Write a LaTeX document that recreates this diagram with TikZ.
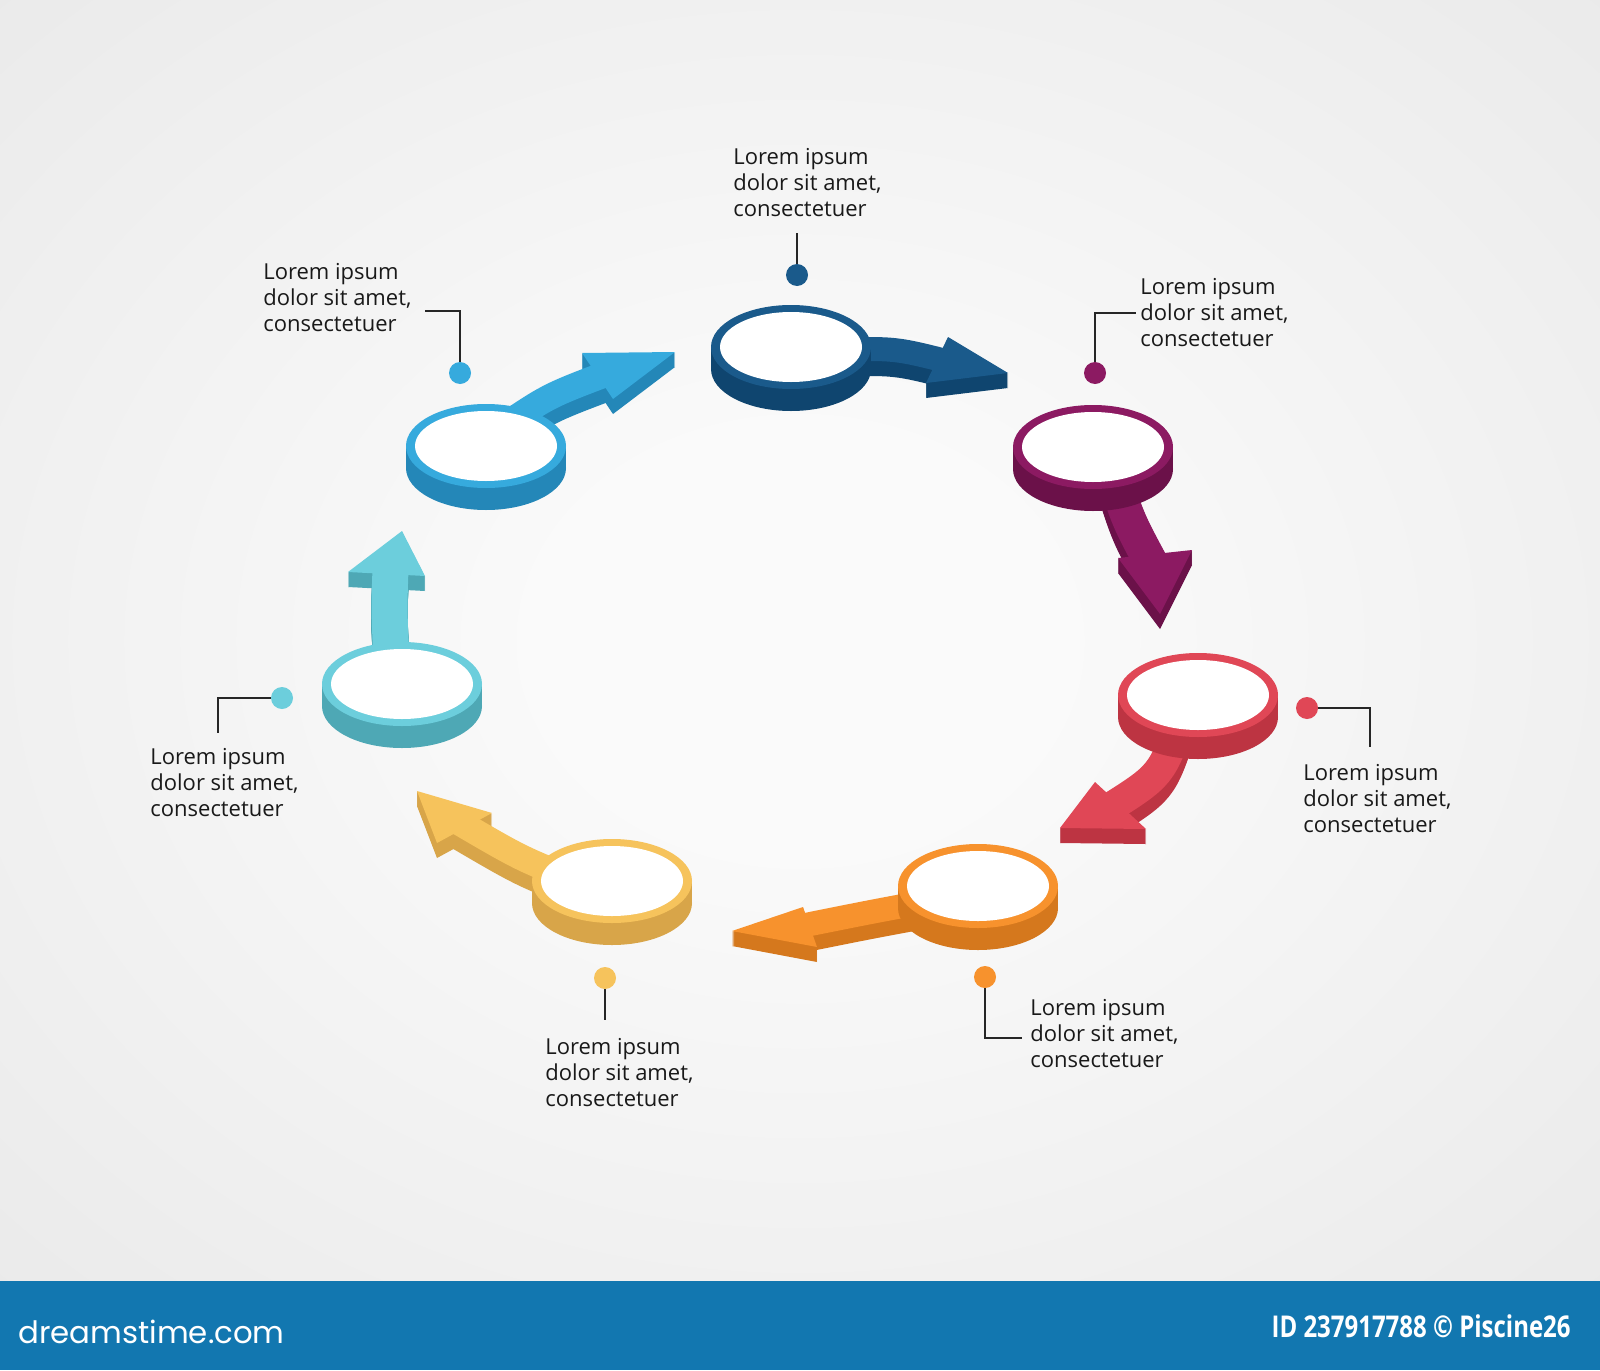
\documentclass[tikz,border=0pt]{standalone}
\usepackage{fontspec}
\setmainfont{Open Sans}
\newfontfamily\logofont{Poppins}
\newfontfamily\idfont[FakeStretch=0.8]{Open Sans}
\usetikzlibrary{calc}

\definecolor{face1}{HTML}{1A5A8B}\definecolor{side1}{HTML}{0F456F}
\definecolor{face2}{HTML}{8C1A62}\definecolor{side2}{HTML}{6B1149}
\definecolor{face3}{HTML}{E04756}\definecolor{side3}{HTML}{BD3442}
\definecolor{face4}{HTML}{F7922D}\definecolor{side4}{HTML}{D5781D}
\definecolor{face5}{HTML}{F6C35C}\definecolor{side5}{HTML}{D8A549}
\definecolor{face6}{HTML}{6CCEDC}\definecolor{side6}{HTML}{4EA8B5}
\definecolor{face7}{HTML}{36AADD}\definecolor{side7}{HTML}{2487B8}
\definecolor{bgin}{HTML}{FAFAFA}
\definecolor{bgout}{HTML}{E2E2E2}
\definecolor{footblue}{HTML}{1277B0}
\pgfdeclareradialshading{backglow}{\pgfpoint{0bp}{0bp}}{color(0bp)=(bgin); color(8bp)=(bgin); color(50bp)=(bgout); color(80bp)=(bgout)}

\tikzset{
  label text/.style={font=\fontsize{11}{13}\selectfont, align=left, anchor=north west, inner sep=0pt, text=black!90},
  leader/.style={line width=1pt, black!85},
  dot/.style={circle, minimum size=11pt, inner sep=0pt},
}

\begin{document}
\begin{tikzpicture}[x=0.5pt, y=-0.5pt]
\useasboundingbox (0,0) rectangle (1600,1370);
\shade[shading=backglow] (0,0) rectangle (1600,1282);
\fill[footblue] (0,1281) rectangle (1600,1370);

% discs
\coordinate (disc1) at (791,347);
\coordinate (disc2) at (1093,447);
\coordinate (disc3) at (1198,695);
\coordinate (disc4) at (978,886);
\coordinate (disc5) at (612,881);
\coordinate (disc6) at (402,684);
\coordinate (disc7) at (486,446);

% arrows: start, control, base, wings, tip
\coordinate (start1) at (835,350); \coordinate (ctrl1) at (895,348); \coordinate (base1) at (937,360);
\coordinate (lw1) at (948,337); \coordinate (rw1) at (926,383); \coordinate (tip1) at (1008,373);
\coordinate (start2) at (1112,470); \coordinate (ctrl2) at (1128,520); \coordinate (base2) at (1152,553);
\coordinate (lw2) at (1118,558); \coordinate (rw2) at (1192,550); \coordinate (tip2) at (1160,614);
\coordinate (start3) at (1182,715); \coordinate (ctrl3) at (1162,775); \coordinate (base3) at (1120,805);
\coordinate (lw3) at (1095,782); \coordinate (rw3) at (1146,829); \coordinate (tip3) at (1060,828);
\coordinate (start4) at (935,900); \coordinate (ctrl4) at (870,912); \coordinate (base4) at (810,927);
\coordinate (lw4) at (803,907); \coordinate (rw4) at (817,947); \coordinate (tip4) at (732,931);
\coordinate (start5) at (575,880); \coordinate (ctrl5) at (520,858); \coordinate (base5) at (465,828);
\coordinate (lw5) at (492,813); \coordinate (rw5) at (437,843); \coordinate (tip5) at (417,791);
\coordinate (start6) at (392,670); \coordinate (ctrl6) at (389,610); \coordinate (base6) at (387,573);
\coordinate (lw6) at (348,572); \coordinate (rw6) at (425,576); \coordinate (tip6) at (402,531);
\coordinate (start7) at (505,425); \coordinate (ctrl7) at (550,395); \coordinate (base7) at (597,376);
\coordinate (lw7) at (582,353); \coordinate (rw7) at (613,399); \coordinate (tip7) at (675,352);

\foreach \i/\w in {1/12,2/17,3/15,4/12,5/13,6/18,7/13}{
  \coordinate (neck\i) at ($(base\i)!0.25!(tip\i)$);
  \foreach \d in {15,14,...,1}{
    \draw[side\i, line width=\w pt] ($(start\i)+(0,\d)$) .. controls ($(ctrl\i)+(0,\d)$) .. ($(neck\i)+(0,\d)$);
    \fill[side\i] ($(lw\i)+(0,\d)$) -- ($(tip\i)+(0,\d)$) -- ($(rw\i)+(0,\d)$) -- cycle;
  }
  \draw[face\i, line width=\w pt] (start\i) .. controls (ctrl\i) .. (neck\i);
  \fill[face\i] (lw\i) -- (tip\i) -- (rw\i) -- cycle;
}

\foreach \i in {1,...,7}{
  \fill[side\i] ($(disc\i)+(-80,0)$) rectangle ($(disc\i)+(80,22)$);
  \fill[side\i] ($(disc\i)+(0,22)$) ellipse [x radius=80, y radius=42];
  \fill[face\i] (disc\i) ellipse [x radius=80, y radius=42];
  \fill[white] (disc\i) ellipse [x radius=71, y radius=35];
}

% labels
\node[label text] (txt1) at (733,148) {Lorem ipsum\\dolor sit amet,\\consectetuer};
\node[label text] (txt2) at (1140,278) {Lorem ipsum\\dolor sit amet,\\consectetuer};
\node[label text] (txt3) at (1303,764) {Lorem ipsum\\dolor sit amet,\\consectetuer};
\node[label text] (txt4) at (1030,999) {Lorem ipsum\\dolor sit amet,\\consectetuer};
\node[label text] (txt5) at (545,1038) {Lorem ipsum\\dolor sit amet,\\consectetuer};
\node[label text] (txt6) at (150,748) {Lorem ipsum\\dolor sit amet,\\consectetuer};
\node[label text] (txt7) at (263,263) {Lorem ipsum\\dolor sit amet,\\consectetuer};

\coordinate (dot1) at (797,275);
\coordinate (dot2) at (1095,373);
\coordinate (dot3) at (1307,708);
\coordinate (dot4) at (985,977);
\coordinate (dot5) at (605,978);
\coordinate (dot6) at (282,698);
\coordinate (dot7) at (460,373);

\draw[leader] (dot1) -- ($(txt1.south -| dot1)+(0,16)$);
\draw[leader] (dot2) |- ($(txt2.west)+(-4,0)$);
\draw[leader] (dot3) -| ($(txt3.north west)+(67,-17)$);
\draw[leader] (dot4) |- ($(txt4.west)+(-8,4)$);
\draw[leader] (dot5) -- ($(txt5.north west -| dot5)+(0,-18)$);
\draw[leader] (dot6) -| ($(txt6.north west)+(68,-15)$);
\draw[leader] (dot7) |- ($(txt7.east)+(13,13)$);

\foreach \i in {1,...,7}
  \node[dot, fill=face\i] at (dot\i) {};

% footer
\node[anchor=west, text=white, inner sep=0pt, font=\logofont\fontsize{15.4}{18}\selectfont] (logo) at (18,1332) {dreamstime.com};
\node[anchor=east, text=white, inner sep=0pt, font=\idfont\bfseries\fontsize{15}{18}\selectfont] (credit) at (1571,1326) {ID 237917788 © Piscine26};
\end{tikzpicture}
\end{document}
